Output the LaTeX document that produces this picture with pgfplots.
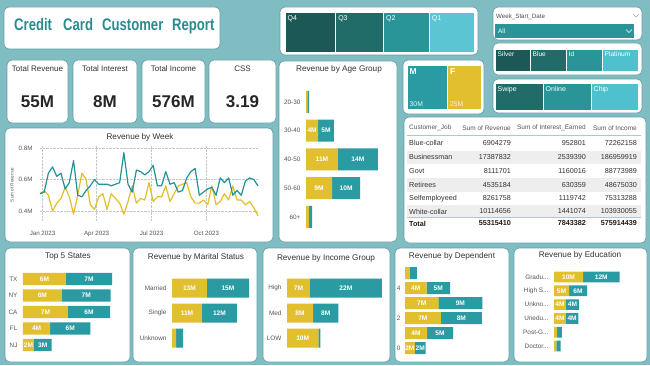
\documentclass[border=0pt]{standalone}
\usepackage{pgfplots}
\pgfplotsset{compat=1.18}
\usepackage{pgfplotstable}
\usepackage{fontspec}
\setmainfont{Liberation Sans}
\newfontfamily\titlefont[FakeStretch=0.78]{Liberation Sans}
\newcommand{\fs}[1]{\fontsize{#1}{#1}\selectfont}
\newcommand{\dd}{...}
\def\Y#1{\the\dimexpr365pt-#1pt\relax}
\definecolor{bg}{HTML}{80BDC2}
\definecolor{pborder}{HTML}{5E9EA4}
\definecolor{cyel}{HTML}{E2BF2F}
\definecolor{cteal}{HTML}{2A9BA3}
\definecolor{lteal}{HTML}{1F9399}
\definecolor{lyel}{HTML}{E3BE2A}
\definecolor{ttl}{HTML}{2C8A8E}
\definecolor{txtc}{HTML}{333333}
\definecolor{tickc}{HTML}{555555}
\definecolor{qa}{HTML}{1C5855}
\definecolor{qb}{HTML}{216B68}
\definecolor{qc}{HTML}{2A9599}
\definecolor{qd}{HTML}{5BC5D3}
\definecolor{pl}{HTML}{4FC0CE}
\definecolor{rowgray}{HTML}{EEEEEE}
\definecolor{hline}{HTML}{A8C7E0}
\newcommand{\panel}[4]{\filldraw[fill=white,draw=pborder,line width=0.6pt,rounded corners=5pt] (#1pt,\Y{#2}) rectangle (#3pt,\Y{#4});}

\pgfplotsset{
  hbar/.style={scale only axis, xbar stacked, xmin=0, y dir=reverse, anchor=north west,
    axis line style={draw=none}, major tick length=0pt, tick style={draw=none}, xtick=\empty,
    yticklabel style={font=\fs{6.4}, text=tickc, xshift=-2pt},
    enlargelimits=false, clip=false},
  yb/.style={fill=cyel, draw=none},
  tb/.style={fill=cteal, draw=none},
  lab/.style={stack plots=false, draw=none, fill=none, nodes near coords, point meta=explicit symbolic,
    every node near coord/.append style={anchor=center, font=\bfseries\fs{6.6}, text=white, inner sep=0pt}},
  tmap/.style={scale only axis, xbar stacked, hide axis, xmin=0, ymin=-0.5, ymax=0.5,
    enlargelimits=false, anchor=north west, clip=false},
  cell/.style={fill=#1, draw=white, line width=0.8pt},
  tlab/.style={stack plots=false, draw=none, fill=none, nodes near coords, point meta=explicit symbolic,
    every node near coord/.append style={anchor=north west, font=\fs{7}, text=white, inner sep=2.5pt, yshift=-1pt}},
}

\pgfplotstableread{
w m f
0 0.51 0.51
1 0.52 0.53
2 0.64 0.50
3 0.68 0.40
4 0.62 0.45
5 0.64 0.48
6 0.54 0.55
7 0.58 0.49
8 0.72 0.38
9 0.50 0.50
10 0.49 0.64
11 0.53 0.60
12 0.56 0.44
13 0.60 0.41
14 0.57 0.49
15 0.57 0.51
16 0.57 0.41
17 0.56 0.51
18 0.57 0.48
19 0.58 0.45
20 0.77 0.38
21 0.57 0.46
22 0.52 0.56
23 0.66 0.45
24 0.65 0.48
25 0.63 0.47
26 0.65 0.58
27 0.69 0.46
28 0.56 0.49
29 0.56 0.49
30 0.65 0.56
31 0.57 0.46
32 0.58 0.51
33 0.52 0.56
34 0.53 0.57
35 0.61 0.58
36 0.65 0.49
37 0.67 0.45
38 0.50 0.45
39 0.52 0.47
40 0.54 0.44
41 0.55 0.56
42 0.50 0.44
43 0.61 0.46
44 0.58 0.51
45 0.61 0.47
46 0.50 0.56
47 0.53 0.47
48 0.50 0.47
49 0.59 0.44
50 0.61 0.46
51 0.60 0.42
52 0.56 0.37
}\weektable

\begin{document}
\begin{tikzpicture}
\fill[bg] (0,0) rectangle (650pt,365pt);
% panels
\panel{4}{7}{220}{49}
\panel{280}{7}{478}{55}
\panel{493}{7}{642}{40}
\panel{493}{43}{642}{75}
\panel{493}{79}{642}{113}
\panel{403}{60}{484}{114}
\panel{7}{60}{68}{123}
\panel{73}{60}{137}{123}
\panel{142}{60}{205}{123}
\panel{209}{60}{276}{123}
\panel{5}{128}{273}{242}
\panel{279}{61}{397}{242}
\panel{404}{117}{646}{243}
\panel{5}{248}{130}{362}
\panel{133}{248}{257}{362}
\panel{263}{248}{390}{362}
\panel{395}{248}{509}{362}
\panel{514}{248}{647}{362}

% report title
\begin{scope}[every node/.style={anchor=base west, inner sep=0pt, text=ttl, font=\titlefont\bfseries\fs{16.8}}]
\node at (14pt,\Y{31}) {Credit};
\node at (63pt,\Y{31}) {Card};
\node at (102pt,\Y{31}) {Customer};
\node at (172pt,\Y{31}) {Report};
\end{scope}

% KPI cards
\begin{scope}[every node/.style={inner sep=0pt, text=txtc}]
\node[font=\fs{8}] at (37.5pt,\Y{69}) {Total Revenue};
\node[font=\fs{8}] at (105pt,\Y{69}) {Total Interest};
\node[font=\fs{8}] at (173.5pt,\Y{69}) {Total Income};
\node[font=\fs{8}] at (242.5pt,\Y{69}) {CSS};
\node[anchor=base, font=\bfseries\fs{17}, text=black!85] at (37.5pt,\Y{107}) {55M};
\node[anchor=base, font=\bfseries\fs{17}, text=black!85] at (105pt,\Y{107}) {8M};
\node[anchor=base, font=\bfseries\fs{17}, text=black!85] at (173.5pt,\Y{107}) {576M};
\node[anchor=base, font=\bfseries\fs{17}, text=black!85] at (242.5pt,\Y{107}) {3.19};
\end{scope}

% chart titles
\begin{scope}[every node/.style={inner sep=0pt, text=txtc, font=\fs{8.2}}]
\node at (140pt,\Y{137}) {Revenue by Week};
\node at (339pt,\Y{69}) {Revenue by Age Group};
\node at (68pt,\Y{256}) {Top 5 States};
\node at (196pt,\Y{257}) {Revenue by Marital Status};
\node at (326pt,\Y{258}) {Revenue by Income Group};
\node at (452pt,\Y{256}) {Revenue by Dependent};
\node at (580pt,\Y{255}) {Revenue by Education};
\end{scope}

% slicer
\node[anchor=west, inner sep=0pt, font=\fs{6.2}, text=black!70] at (496pt,\Y{16.5}) {Week\_Start\_Date};
\draw[gray!70, line width=0.5pt] (633pt,\Y{14}) -- (636pt,\Y{17}) -- (639pt,\Y{14});
\fill[qc] (495pt,\Y{24}) rectangle (634pt,\Y{38});
\node[anchor=west, inner sep=0pt, font=\fs{6.4}, text=white] at (498pt,\Y{31.5}) {All};
\draw[white, line width=0.6pt] (626pt,\Y{29.5}) -- (629pt,\Y{32.5}) -- (632pt,\Y{29.5});

% treemap: quarters (label plots place text at half their value)
\begin{axis}[tmap, at={(285pt,\Y{12})}, width=189pt, height=40pt, xmax=55.7, bar width=40pt]
\addplot[cell=qa] coordinates {(14.9,0)};
\addplot[cell=qb] coordinates {(14.1,0)};
\addplot[cell=qc] coordinates {(13.5,0)};
\addplot[cell=qd] coordinates {(13.2,0)};
\addplot[tlab] coordinates {(0,0.5)[Q4] (29.8,0.5)[Q3] (58.0,0.5)[Q2] (85.0,0.5)[Q1]};
\end{axis}

% treemap: card category
\begin{axis}[tmap, at={(495pt,\Y{49})}, width=143pt, height=22pt, xmax=143, bar width=22pt]
\addplot[cell=qa] coordinates {(35,0)};
\addplot[cell=qb] coordinates {(36,0)};
\addplot[cell=qc] coordinates {(36,0)};
\addplot[cell=pl] coordinates {(36,0)};
\addplot[tlab, every node near coord/.append style={font=\fs{6.6}, yshift=0.5pt}] coordinates {(0,0.5)[Silver] (70,0.5)[Blue] (142,0.5)[Id] (214,0.5)[Platinum]};
\end{axis}

% treemap: use chip
\begin{axis}[tmap, at={(495pt,\Y{83})}, width=143pt, height=27pt, xmax=143, bar width=27pt]
\addplot[cell=qb] coordinates {(48,0)};
\addplot[cell=qc] coordinates {(48,0)};
\addplot[cell=pl] coordinates {(47,0)};
\addplot[tlab] coordinates {(0,0.5)[Swipe] (96,0.5)[Online] (192,0.5)[Chip]};
\end{axis}

% treemap: gender
\begin{axis}[tmap, at={(407pt,\Y{65})}, width=74pt, height=44pt, xmax=55, bar width=44pt]
\addplot[cell=cteal] coordinates {(30,0)};
\addplot[cell=cyel] coordinates {(25,0)};
\addplot[tlab, every node near coord/.append style={font=\bfseries\fs{8.5}}] coordinates {(0,0.5)[M] (60,0.5)[F]};
\addplot[tlab, every node near coord/.append style={anchor=south west, yshift=1pt, font=\fs{6.8}, text=white!90!gray}] coordinates {(0,-0.5)[30M] (60,-0.5)[25M]};
\end{axis}

% Revenue by week
\begin{axis}[scale only axis, at={(40pt,220.15pt)}, anchor=north west, width=218pt, height=75.6pt,
  xmin=0, xmax=52, ymin=0.34, ymax=0.82, enlargelimits=false, clip=false,
  axis line style={draw=none}, major tick length=0pt, tick style={draw=none},
  ytick={0.4,0.6,0.8}, yticklabels={0.4M,0.6M,0.8M},
  xtick={0.6,13.5,26.6,39.7}, xticklabels={Jan 2023,Apr 2023,Jul 2023,Oct 2023},
  grid=major, grid style={densely dotted, line width=0.4pt, gray!45},
  ticklabel style={font=\fs{6.2}, text=tickc},
  xticklabel style={yshift=-7pt},
  yticklabel style={xshift=-4pt},
  ylabel={Sum of Revenue},
  every axis y label/.style={at={(axis description cs:-0.128,0.47)}, rotate=90, anchor=center, font=\fs{4.6}, text=tickc},
  every axis plot/.append style={line width=1.2pt, mark=none, line join=round}]
\addplot[lyel] table[x=w, y=f] {\weektable};
\addplot[lteal] table[x=w, y=m] {\weektable};
\end{axis}

% Revenue by age group
\begin{axis}[hbar, at={(306pt,277.4pt)}, width=87pt, height=143.75pt, xmax=30, ymin=-0.5, ymax=4.5, bar width=22pt,
  ytick={0,1,2,3,4}, yticklabels={20-30,30-40,40-50,50-60,60+}]
\addplot[yb] coordinates {(0.5,0) (4.2,1) (11.0,2) (9.0,3) (1.0,4)};
\addplot[tb] coordinates {(0.6,0) (5.4,1) (13.8,2) (9.7,3) (1.1,4)};
\addplot[lab] coordinates {(4.2,1)[4M] (13.8,1)[5M] (11.0,2)[11M] (35.8,2)[14M] (9.0,3)[9M] (27.7,3)[10M]};
\end{axis}

% Top 5 states
\begin{axis}[hbar, at={(23pt,94.25pt)}, width=95.2pt, height=82.5pt, xmax=14, ymin=-0.5, ymax=4.5, bar width=12.3pt,
  ytick={0,1,2,3,4}, yticklabels={TX,NY,CA,FL,NJ}]
\addplot[yb] coordinates {(6.3,0) (5.7,1) (6.6,2) (4.0,3) (1.6,4)};
\addplot[tb] coordinates {(6.8,0) (7.2,1) (6.2,2) (5.9,3) (2.6,4)};
\addplot[lab] coordinates {(6.3,0)[6M] (19.4,0)[7M] (5.7,1)[6M] (18.6,1)[7M] (6.6,2)[7M] (19.4,2)[6M] (4.0,3)[4M] (13.9,3)[6M] (1.6,4)[2M] (5.8,4)[3M]};
\end{axis}

% Marital status
\begin{axis}[hbar, at={(172pt,89.5pt)}, width=82.5pt, height=75pt, xmax=30, ymin=-0.5, ymax=2.5, bar width=19pt,
  ytick={0,1,2}, yticklabels={Married,Single,Unknown}]
\addplot[yb] coordinates {(12.7,0) (10.9,1) (1.5,2)};
\addplot[tb] coordinates {(15.3,0) (12.7,1) (2.5,2)};
\addplot[lab] coordinates {(12.7,0)[13M] (40.7,0)[15M] (10.9,1)[11M] (34.5,1)[12M]};
\end{axis}

% Income group
\begin{axis}[hbar, at={(287pt,89.5pt)}, width=98.1pt, height=75pt, xmax=30, ymin=-0.5, ymax=2.5, bar width=19pt,
  ytick={0,1,2}, yticklabels={High,Med,LOW}]
\addplot[yb] coordinates {(7.0,0) (8.0,1) (9.6,2)};
\addplot[tb] coordinates {(22.0,0) (7.7,1) (0.6,2)};
\addplot[lab] coordinates {(7.0,0)[7M] (36.0,0)[22M] (8.0,1)[8M] (23.7,1)[8M] (9.6,2)[10M]};
\end{axis}

% Dependent
\begin{axis}[hbar, at={(405pt,99.5pt)}, width=98pt, height=90pt, xmax=20, ymin=-0.5, ymax=5.5, bar width=12pt,
  ytick={1,3,5}, yticklabels={4,2,0}, yticklabel style={xshift=1pt}]
\addplot[yb] coordinates {(1.0,0) (4.4,1) (6.8,2) (7.3,3) (4.5,4) (2.0,5)};
\addplot[tb] coordinates {(1.4,0) (4.8,1) (9.0,2) (8.4,3) (5.3,4) (2.2,5)};
\addplot[lab] coordinates {(4.4,1)[4M] (13.6,1)[5M] (6.8,2)[7M] (22.6,2)[9M] (7.3,3)[7M] (23.0,3)[8M] (4.5,4)[4M] (14.3,4)[5M] (2.0,5)[2M] (6.2,5)[2M]};
\end{axis}

% Education
\begin{axis}[hbar, at={(554pt,94.9pt)}, width=87pt, height=82.8pt, xmax=30, ymin=-0.5, ymax=5.5, bar width=10.7pt,
  ytick={0,1,2,3,4,5}, yticklabels={Gradu\dd,High S\dd,Unkno\dd,Unedu\dd,Post-G\dd,Doctor\dd}]
\addplot[yb] coordinates {(10.0,0) (5.2,1) (4.1,2) (4.1,3) (1.1,4) (0.8,5)};
\addplot[tb] coordinates {(12.6,0) (6.2,1) (4.5,2) (4.3,3) (1.6,4) (1.5,5)};
\addplot[lab] coordinates {(10.0,0)[10M] (32.6,0)[12M] (5.2,1)[5M] (16.6,1)[6M] (4.1,2)[4M] (12.7,2)[4M] (4.1,3)[4M] (12.5,3)[4M]};
\end{axis}

% Table
\fill[rowgray] (407pt,\Y{150.5}) rectangle (641pt,\Y{163.5});
\fill[rowgray] (407pt,\Y{178}) rectangle (641pt,\Y{191.5});
\fill[rowgray] (407pt,\Y{205}) rectangle (641pt,\Y{217});
\draw[hline, line width=0.6pt] (407pt,\Y{135}) -- (641pt,\Y{135});
\draw[hline, line width=0.6pt] (407pt,\Y{217.3}) -- (641pt,\Y{217.3});
\begin{scope}[every node/.style={inner sep=0pt, font=\fs{6.5}, text=tickc}]
\node[anchor=west] at (409pt,\Y{128}) {Customer\_Job};
\node[anchor=east] at (511pt,\Y{128}) {Sum of Revenue};
\node[anchor=east] at (586pt,\Y{128}) {Sum of Interest\_Earned};
\node[anchor=east] at (637pt,\Y{128}) {Sum of Income};
\end{scope}
\begin{scope}[every node/.style={inner sep=0pt, font=\fs{7.2}, text=txtc}]
\node[anchor=west] at (409pt,\Y{143}) {Blue-collar};
\node[anchor=east] at (511pt,\Y{143}) {6904279};
\node[anchor=east] at (586pt,\Y{143}) {952801};
\node[anchor=east] at (637pt,\Y{143}) {72262158};
\node[anchor=west] at (409pt,\Y{157}) {Businessman};
\node[anchor=east] at (511pt,\Y{157}) {17387832};
\node[anchor=east] at (586pt,\Y{157}) {2539390};
\node[anchor=east] at (637pt,\Y{157}) {186959919};
\node[anchor=west] at (409pt,\Y{171}) {Govt};
\node[anchor=east] at (511pt,\Y{171}) {8111701};
\node[anchor=east] at (586pt,\Y{171}) {1160016};
\node[anchor=east] at (637pt,\Y{171}) {88773989};
\node[anchor=west] at (409pt,\Y{185}) {Retirees};
\node[anchor=east] at (511pt,\Y{185}) {4535184};
\node[anchor=east] at (586pt,\Y{185}) {630359};
\node[anchor=east] at (637pt,\Y{185}) {48675030};
\node[anchor=west] at (409pt,\Y{198.5}) {Selfemployeed};
\node[anchor=east] at (511pt,\Y{198.5}) {8261758};
\node[anchor=east] at (586pt,\Y{198.5}) {1119742};
\node[anchor=east] at (637pt,\Y{198.5}) {75313288};
\node[anchor=west] at (409pt,\Y{211.5}) {White-collar};
\node[anchor=east] at (511pt,\Y{211.5}) {10114656};
\node[anchor=east] at (586pt,\Y{211.5}) {1441074};
\node[anchor=east] at (637pt,\Y{211.5}) {103930055};
\end{scope}
\begin{scope}[every node/.style={inner sep=0pt, font=\bfseries\fs{7.2}, text=black!90}]
\node[anchor=west] at (409pt,\Y{223.5}) {Total};
\node[anchor=east] at (511pt,\Y{223.5}) {55315410};
\node[anchor=east] at (586pt,\Y{223.5}) {7843382};
\node[anchor=east] at (637pt,\Y{223.5}) {575914439};
\end{scope}

\pgfresetboundingbox
\path[use as bounding box] (0,0) rectangle (650pt,365pt);
\end{tikzpicture}
\end{document}
